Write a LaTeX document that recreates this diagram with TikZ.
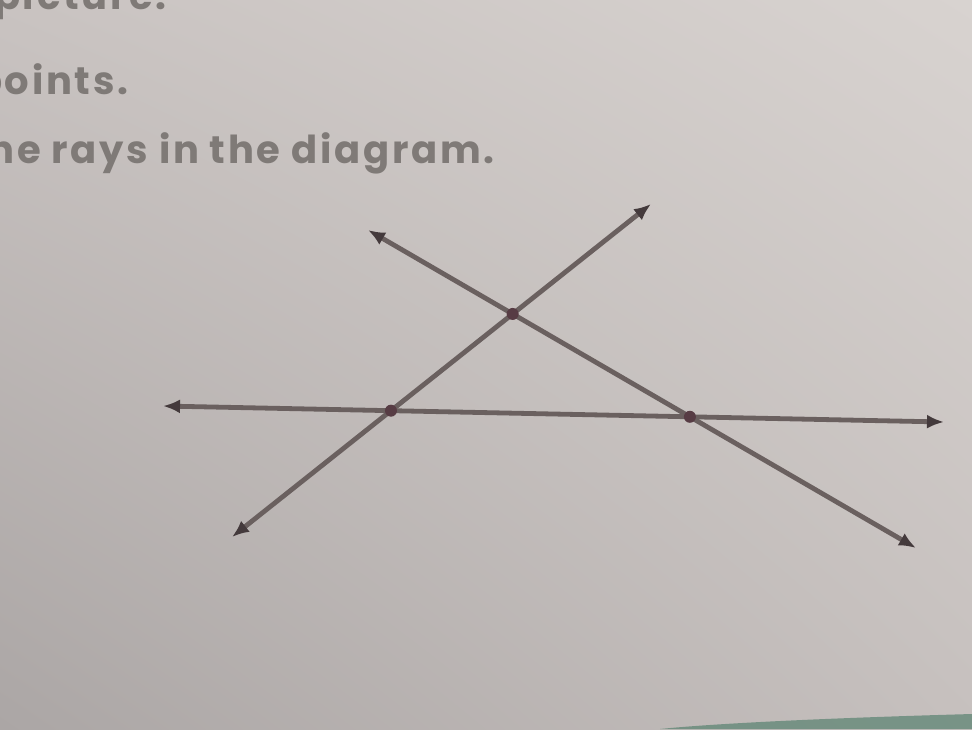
\documentclass[tikz,border=0pt]{standalone}
\usepackage{fontspec}
\setmainfont{Poppins}
\usetikzlibrary{arrows.meta,intersections,shadings}
\definecolor{paperTR}{HTML}{D8D3D0}
\definecolor{paperTL}{HTML}{C9C3C1}
\definecolor{paperBR}{HTML}{C6C0BE}
\definecolor{paperBL}{HTML}{ABA6A5}
\definecolor{inkline}{HTML}{6A605F}
\definecolor{inkhead}{HTML}{443A3C}
\definecolor{inkdot}{HTML}{573C44}
\definecolor{inktext}{HTML}{7F7A77}
\definecolor{bandgreen}{HTML}{5E8574}
\tikzset{
  ray/.style={draw=inkline, line width=4.8pt, line cap=round,
    {Latex[length=17pt,width=14pt,color=inkhead]}-{Latex[length=17pt,width=14pt,color=inkhead]}},
  ptdot/.style={circle, fill=inkdot, inner sep=0pt, minimum size=12pt},
  worksheet/.style={anchor=base west, inner sep=0pt, text=inktext,
    font=\fontsize{38.5}{42}\selectfont\bfseries\addfontfeatures{LetterSpace=7}}
}
\begin{document}
\begin{tikzpicture}[x=1pt,y=-1pt]
\useasboundingbox (0,0) rectangle (972,729);
\shade[upper left=paperTL, upper right=paperTR, lower left=paperBL, lower right=paperBR]
  (0,0) rectangle (972,729);
\fill[bandgreen, opacity=0.75] (660,729) .. controls (740,721) and (900,716) .. (972,714) -- (972,729) -- cycle;
% text lines
\node[worksheet] (t1) at (-6,9) {picture.};
\node[worksheet] (t2) at (-24,94) {points.};
\node[worksheet] (t3) at (-30,163) {the rays in the diagram.};
% end points
\coordinate (hL) at (163,406);
\coordinate (hR) at (944,422);
\coordinate (aL) at (232,537);
\coordinate (aR) at (651,204);
\coordinate (bL) at (368,230);
\coordinate (bR) at (916,548);
\draw[ray, name path=h] (hL) -- (hR);
\draw[ray, name path=a] (aL) -- (aR);
\draw[ray, name path=b] (bL) -- (bR);
\path[name intersections={of=a and b, by=P}];
\path[name intersections={of=a and h, by=Q}];
\path[name intersections={of=b and h, by=R}];
\node[ptdot] (dP) at (P) {};
\node[ptdot] (dQ) at (Q) {};
\node[ptdot] (dR) at (R) {};
\end{tikzpicture}
\end{document}
